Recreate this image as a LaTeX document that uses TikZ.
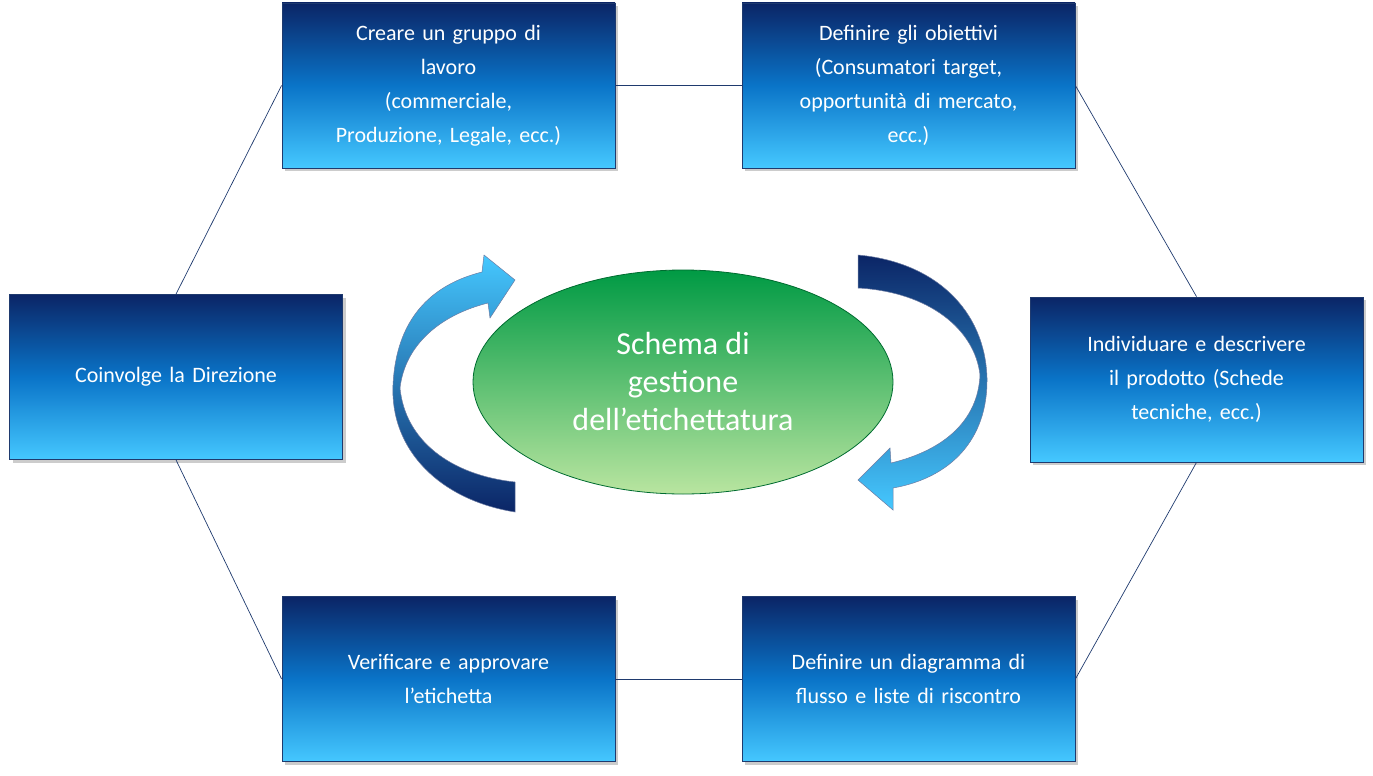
\documentclass[tikz,border=0pt]{standalone}
\usepackage{fontspec}
\setmainfont{Carlito}
\usetikzlibrary{shadows,shapes.geometric}
\definecolor{navy}{HTML}{0B2566}
\definecolor{midb}{HTML}{0A74C8}
\definecolor{lightb}{HTML}{45C8FF}
\definecolor{dgreen}{HTML}{009A44}
\definecolor{mgreen}{HTML}{22B24C}
\definecolor{lgreen}{HTML}{B9E5A0}
\definecolor{linec}{HTML}{1F3A6E}
\begin{document}
\begin{tikzpicture}[x=1pt,y=-1pt,
  box/.style={draw=linec,line width=0.8pt,top color=navy,bottom color=lightb,middle color=midb,
    minimum width=333pt,minimum height=165pt,text width=310pt,align=center,text=white,
    font=\fontsize{22}{34}\selectfont,drop shadow={shadow xshift=3pt,shadow yshift=-3pt,opacity=0.4}},
  conn/.style={draw=linec,line width=0.7pt}]
\useasboundingbox (0,0) rectangle (1373,776);
\node[box] (tl) at (448.5,85.5) {Creare un gruppo di\\lavoro\\(commerciale,\\Produzione, Legale, ecc.)};
\node[box] (tr) at (908.5,85.5) {Definire gli obiettivi\\(Consumatori target,\\opportunità di mercato,\\ecc.)};
\node[box] (l) at (176,377) {Coinvolge la Direzione};
\node[box] (r) at (1196.5,379.5) {Individuare e descrivere\\il prodotto (Schede\\tecniche, ecc.)};
\node[box] (bl) at (448.5,679) {Verificare e approvare\\l’etichetta};
\node[box] (br) at (908.5,679) {Definire un diagramma di\\flusso e liste di riscontro};
\draw[conn] (tl.east) -- (tr.west);
\draw[conn] (bl.east) -- (br.west);
\draw[conn] (tl.west) -- (l.north);
\draw[conn] (l.south) -- (bl.west);
\draw[conn] (tr.east) -- (r.north);
\draw[conn] (r.south) -- (br.east);
\node[ellipse,draw=dgreen!70!black,line width=0.8pt,top color=dgreen,middle color=mgreen,bottom color=lgreen,
  minimum width=420pt,minimum height=224pt,text=white,align=center,
  font=\fontsize{32}{38}\selectfont] (c) at (683,382) {Schema di\\gestione\\dell’etichettatura};
% left arrow
\shade[top color=lightb,middle color=midb!80!lightb,bottom color=navy,draw=navy!60,line width=0.5pt]
  (515,512) .. controls (440,500) and (390,450) .. (393,385)
  .. controls (396,320) and (430,285) .. (482,272)
  -- (484,255) -- (515,280) -- (490,318) -- (488,303)
  .. controls (440,315) and (405,345) .. (400,388)
  .. controls (405,440) and (450,475) .. (515,482) -- cycle;
% right arrow
\shade[top color=navy,middle color=midb!80!lightb,bottom color=lightb,draw=navy!60,line width=0.5pt]
  (858,255) .. controls (935,262) and (985,310) .. (987,378)
  .. controls (988,440) and (950,478) .. (893,488)
  -- (893,510) -- (858,480) -- (890,448) -- (891,463)
  .. controls (945,450) and (978,420) .. (980,375)
  .. controls (975,330) and (930,292) .. (858,288) -- cycle;
\end{tikzpicture}
\end{document}
